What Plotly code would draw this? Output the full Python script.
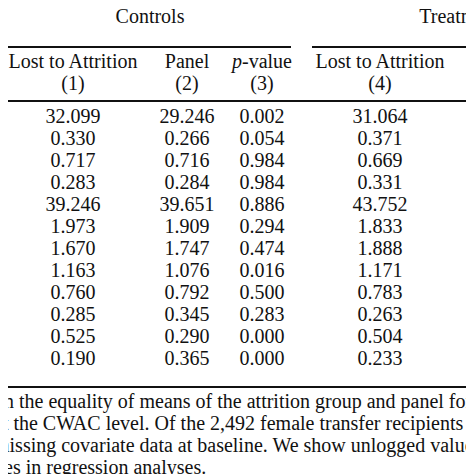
import plotly.graph_objects as go

# Table values
col1 = ["32.099", "0.330", "0.717", "0.283", "39.246", "1.973", "1.670", "1.163", "0.760", "0.285", "0.525", "0.190"]
col2 = ["29.246", "0.266", "0.716", "0.284", "39.651", "1.909", "1.747", "1.076", "0.792", "0.345", "0.290", "0.365"]
col3 = ["0.002", "0.054", "0.984", "0.984", "0.886", "0.294", "0.474", "0.016", "0.500", "0.283", "0.000", "0.000"]
col4 = ["31.064", "0.371", "0.669", "0.331", "43.752", "1.833", "1.888", "1.171", "0.783", "0.263", "0.504", "0.233"]
col5 = ["29.811", "0.301", "0.702", "0.298", "41.005", "1.902", "1.815", "1.104", "0.780", "0.310", "0.372", "0.301"]
headers = ["Lost to Attrition", "Panel", "<i>p</i>-value", "Lost to Attrition", "Panel"]
numbers = ["(1)", "(2)", "(3)", "(4)", "(5)"]
footnote = [
    "on the equality of means of the attrition group and panel for &#8211;",
    "at the CWAC level. Of the 2,492 female transfer recipients at",
    "missing covariate data at baseline. We show unlogged values",
    "ues in regression analyses.",
]

col_x = [73, 187, 262, 380, 498]
font = dict(family="Liberation Serif", size=20, color="#111")

xs, ys, ts = [], [], []
for j, col in enumerate([col1, col2, col3, col4, col5]):
    for i, v in enumerate(col):
        xs.append(col_x[j]); ys.append(117 + 22 * i); ts.append(v)
for j in range(5):
    xs += [col_x[j], col_x[j]]; ys += [62, 84]; ts += [headers[j], numbers[j]]
xs += [150, 460]; ys += [17, 17]; ts += ["Controls", "Treatment"]

fig = go.Figure()
fig.add_trace(go.Scatter(x=xs, y=ys, text=ts, mode="text", textfont=font,
                         textposition="middle center", cliponaxis=True, hoverinfo="skip"))
for k, line in enumerate(footnote):
    fig.add_trace(go.Scatter(x=[-6], y=[402 + 22 * k], text=[line], mode="text",
                             textfont=dict(family="Liberation Serif", size=20, color="#111"),
                             textposition="middle right", cliponaxis=True, hoverinfo="skip"))

lines = [(8, 291, 46, 2), (312, 490, 46, 2), (0, 490, 100, 2), (0, 490, 386, 2)]
for x0, x1, y, w in lines:
    fig.add_shape(type="line", x0=x0, x1=x1, y0=y, y1=y, line=dict(color="#111", width=w))

fig.update_layout(width=474, height=474, margin=dict(l=0, r=0, t=0, b=0),
                  plot_bgcolor="white", paper_bgcolor="white", showlegend=False,
                  xaxis=dict(range=[8, 482], visible=False),
                  yaxis=dict(range=[481, 7], visible=False))
fig.write_html("out.html")
